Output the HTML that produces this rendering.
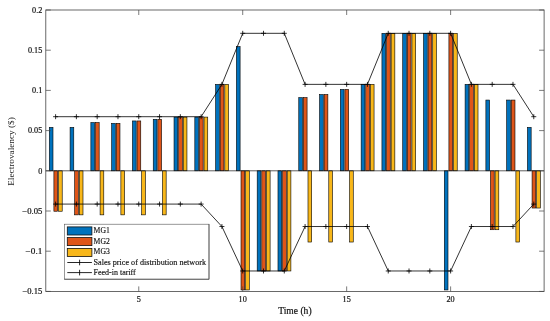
<!DOCTYPE html>
<html><head><meta charset="utf-8"><title>Electrovalency chart</title>
<style>html,body{margin:0;padding:0;background:#fff}svg{display:block}</style>
</head><body>
<svg width="550" height="321" viewBox="0 0 550 321">
<rect width="550" height="321" fill="#fff"/>
<rect x="49.29" y="127.38" width="3.70" height="43.42" fill="#0072BD" stroke="#000" stroke-width="0.6"/>
<rect x="53.90" y="170.80" width="3.70" height="40.44" fill="#DF5518" stroke="#000" stroke-width="0.6"/>
<rect x="58.51" y="170.80" width="3.70" height="40.44" fill="#F8B71A" stroke="#000" stroke-width="0.6"/>
<rect x="70.08" y="127.38" width="3.70" height="43.42" fill="#0072BD" stroke="#000" stroke-width="0.6"/>
<rect x="74.69" y="170.80" width="3.70" height="44.06" fill="#DF5518" stroke="#000" stroke-width="0.6"/>
<rect x="79.30" y="170.80" width="3.70" height="44.06" fill="#F8B71A" stroke="#000" stroke-width="0.6"/>
<rect x="90.87" y="122.56" width="3.70" height="48.24" fill="#0072BD" stroke="#000" stroke-width="0.6"/>
<rect x="95.48" y="122.56" width="3.70" height="48.24" fill="#DF5518" stroke="#000" stroke-width="0.6"/>
<rect x="100.09" y="170.80" width="3.70" height="44.06" fill="#F8B71A" stroke="#000" stroke-width="0.6"/>
<rect x="111.66" y="123.36" width="3.70" height="47.44" fill="#0072BD" stroke="#000" stroke-width="0.6"/>
<rect x="116.27" y="123.36" width="3.70" height="47.44" fill="#DF5518" stroke="#000" stroke-width="0.6"/>
<rect x="120.88" y="170.80" width="3.70" height="44.06" fill="#F8B71A" stroke="#000" stroke-width="0.6"/>
<rect x="132.45" y="120.95" width="3.70" height="49.85" fill="#0072BD" stroke="#000" stroke-width="0.6"/>
<rect x="137.06" y="120.95" width="3.70" height="49.85" fill="#DF5518" stroke="#000" stroke-width="0.6"/>
<rect x="141.67" y="170.80" width="3.70" height="44.06" fill="#F8B71A" stroke="#000" stroke-width="0.6"/>
<rect x="153.24" y="119.34" width="3.70" height="51.46" fill="#0072BD" stroke="#000" stroke-width="0.6"/>
<rect x="157.85" y="119.34" width="3.70" height="51.46" fill="#DF5518" stroke="#000" stroke-width="0.6"/>
<rect x="162.46" y="170.80" width="3.70" height="44.06" fill="#F8B71A" stroke="#000" stroke-width="0.6"/>
<rect x="174.03" y="117.09" width="3.70" height="53.71" fill="#0072BD" stroke="#000" stroke-width="0.6"/>
<rect x="178.64" y="117.09" width="3.70" height="53.71" fill="#DF5518" stroke="#000" stroke-width="0.6"/>
<rect x="183.25" y="117.09" width="3.70" height="53.71" fill="#F8B71A" stroke="#000" stroke-width="0.6"/>
<rect x="194.82" y="117.09" width="3.70" height="53.71" fill="#0072BD" stroke="#000" stroke-width="0.6"/>
<rect x="199.43" y="117.09" width="3.70" height="53.71" fill="#DF5518" stroke="#000" stroke-width="0.6"/>
<rect x="204.04" y="117.09" width="3.70" height="53.71" fill="#F8B71A" stroke="#000" stroke-width="0.6"/>
<rect x="215.61" y="84.37" width="3.70" height="86.43" fill="#0072BD" stroke="#000" stroke-width="0.6"/>
<rect x="220.22" y="84.37" width="3.70" height="86.43" fill="#DF5518" stroke="#000" stroke-width="0.6"/>
<rect x="224.83" y="84.37" width="3.70" height="86.43" fill="#F8B71A" stroke="#000" stroke-width="0.6"/>
<rect x="236.40" y="46.58" width="3.70" height="124.22" fill="#0072BD" stroke="#000" stroke-width="0.6"/>
<rect x="241.01" y="170.80" width="3.70" height="119.15" fill="#DF5518" stroke="#000" stroke-width="0.6"/>
<rect x="245.62" y="170.80" width="3.70" height="119.15" fill="#F8B71A" stroke="#000" stroke-width="0.6"/>
<rect x="257.19" y="170.80" width="3.70" height="100.18" fill="#0072BD" stroke="#000" stroke-width="0.6"/>
<rect x="261.80" y="170.80" width="3.70" height="100.18" fill="#DF5518" stroke="#000" stroke-width="0.6"/>
<rect x="266.41" y="170.80" width="3.70" height="100.18" fill="#F8B71A" stroke="#000" stroke-width="0.6"/>
<rect x="277.98" y="170.80" width="3.70" height="100.18" fill="#0072BD" stroke="#000" stroke-width="0.6"/>
<rect x="282.59" y="170.80" width="3.70" height="100.18" fill="#DF5518" stroke="#000" stroke-width="0.6"/>
<rect x="287.20" y="170.80" width="3.70" height="100.18" fill="#F8B71A" stroke="#000" stroke-width="0.6"/>
<rect x="298.77" y="97.64" width="3.70" height="73.16" fill="#0072BD" stroke="#000" stroke-width="0.6"/>
<rect x="303.38" y="97.64" width="3.70" height="73.16" fill="#DF5518" stroke="#000" stroke-width="0.6"/>
<rect x="307.99" y="170.80" width="3.70" height="71.23" fill="#F8B71A" stroke="#000" stroke-width="0.6"/>
<rect x="319.56" y="94.58" width="3.70" height="76.22" fill="#0072BD" stroke="#000" stroke-width="0.6"/>
<rect x="324.17" y="94.58" width="3.70" height="76.22" fill="#DF5518" stroke="#000" stroke-width="0.6"/>
<rect x="328.78" y="170.80" width="3.70" height="71.23" fill="#F8B71A" stroke="#000" stroke-width="0.6"/>
<rect x="340.35" y="89.44" width="3.70" height="81.36" fill="#0072BD" stroke="#000" stroke-width="0.6"/>
<rect x="344.96" y="89.44" width="3.70" height="81.36" fill="#DF5518" stroke="#000" stroke-width="0.6"/>
<rect x="349.57" y="170.80" width="3.70" height="71.23" fill="#F8B71A" stroke="#000" stroke-width="0.6"/>
<rect x="361.14" y="84.37" width="3.70" height="86.43" fill="#0072BD" stroke="#000" stroke-width="0.6"/>
<rect x="365.75" y="84.37" width="3.70" height="86.43" fill="#DF5518" stroke="#000" stroke-width="0.6"/>
<rect x="370.36" y="84.37" width="3.70" height="86.43" fill="#F8B71A" stroke="#000" stroke-width="0.6"/>
<rect x="381.93" y="33.32" width="3.70" height="137.48" fill="#0072BD" stroke="#000" stroke-width="0.6"/>
<rect x="386.54" y="33.32" width="3.70" height="137.48" fill="#DF5518" stroke="#000" stroke-width="0.6"/>
<rect x="391.15" y="33.32" width="3.70" height="137.48" fill="#F8B71A" stroke="#000" stroke-width="0.6"/>
<rect x="402.72" y="33.32" width="3.70" height="137.48" fill="#0072BD" stroke="#000" stroke-width="0.6"/>
<rect x="407.33" y="33.32" width="3.70" height="137.48" fill="#DF5518" stroke="#000" stroke-width="0.6"/>
<rect x="411.94" y="33.32" width="3.70" height="137.48" fill="#F8B71A" stroke="#000" stroke-width="0.6"/>
<rect x="423.51" y="33.32" width="3.70" height="137.48" fill="#0072BD" stroke="#000" stroke-width="0.6"/>
<rect x="428.12" y="33.32" width="3.70" height="137.48" fill="#DF5518" stroke="#000" stroke-width="0.6"/>
<rect x="432.73" y="33.32" width="3.70" height="137.48" fill="#F8B71A" stroke="#000" stroke-width="0.6"/>
<rect x="444.30" y="170.80" width="3.70" height="119.15" fill="#0072BD" stroke="#000" stroke-width="0.6"/>
<rect x="448.91" y="33.32" width="3.70" height="137.48" fill="#DF5518" stroke="#000" stroke-width="0.6"/>
<rect x="453.52" y="33.32" width="3.70" height="137.48" fill="#F8B71A" stroke="#000" stroke-width="0.6"/>
<rect x="465.09" y="84.37" width="3.70" height="86.43" fill="#0072BD" stroke="#000" stroke-width="0.6"/>
<rect x="469.70" y="84.37" width="3.70" height="86.43" fill="#DF5518" stroke="#000" stroke-width="0.6"/>
<rect x="474.31" y="84.37" width="3.70" height="86.43" fill="#F8B71A" stroke="#000" stroke-width="0.6"/>
<rect x="485.88" y="100.05" width="3.70" height="70.75" fill="#0072BD" stroke="#000" stroke-width="0.6"/>
<rect x="490.49" y="170.80" width="3.70" height="58.93" fill="#DF5518" stroke="#000" stroke-width="0.6"/>
<rect x="495.10" y="170.80" width="3.70" height="58.93" fill="#F8B71A" stroke="#000" stroke-width="0.6"/>
<rect x="506.67" y="100.05" width="3.70" height="70.75" fill="#0072BD" stroke="#000" stroke-width="0.6"/>
<rect x="511.28" y="100.05" width="3.70" height="70.75" fill="#DF5518" stroke="#000" stroke-width="0.6"/>
<rect x="515.89" y="170.80" width="3.70" height="71.23" fill="#F8B71A" stroke="#000" stroke-width="0.6"/>
<rect x="527.46" y="127.38" width="3.70" height="43.42" fill="#0072BD" stroke="#000" stroke-width="0.6"/>
<rect x="532.07" y="170.80" width="3.70" height="37.23" fill="#DF5518" stroke="#000" stroke-width="0.6"/>
<rect x="536.68" y="170.80" width="3.70" height="37.23" fill="#F8B71A" stroke="#000" stroke-width="0.6"/>
<line x1="45.8" y1="170.80" x2="544.1" y2="170.80" stroke="#1a1a1a" stroke-width="0.7"/>
<polyline points="55.60,116.69 76.39,116.69 97.18,116.69 117.97,116.69 138.76,116.69 159.55,116.69 180.34,116.69 201.13,116.69 221.92,84.37 242.71,33.32 263.50,33.32 284.29,33.32 305.08,84.37 325.87,84.37 346.66,84.37 367.45,84.37 388.24,33.32 409.03,33.32 429.82,33.32 450.61,33.32 471.40,84.37 492.19,84.37 512.98,84.37 533.77,116.69" fill="none" stroke="#000" stroke-width="0.8"/><path d="M53.10 116.69H58.10M55.60 114.19V119.19M73.89 116.69H78.89M76.39 114.19V119.19M94.68 116.69H99.68M97.18 114.19V119.19M115.47 116.69H120.47M117.97 114.19V119.19M136.26 116.69H141.26M138.76 114.19V119.19M157.05 116.69H162.05M159.55 114.19V119.19M177.84 116.69H182.84M180.34 114.19V119.19M198.63 116.69H203.63M201.13 114.19V119.19M219.42 84.37H224.42M221.92 81.87V86.87M240.21 33.32H245.21M242.71 30.82V35.82M261.00 33.32H266.00M263.50 30.82V35.82M281.79 33.32H286.79M284.29 30.82V35.82M302.58 84.37H307.58M305.08 81.87V86.87M323.37 84.37H328.37M325.87 81.87V86.87M344.16 84.37H349.16M346.66 81.87V86.87M364.95 84.37H369.95M367.45 81.87V86.87M385.74 33.32H390.74M388.24 30.82V35.82M406.53 33.32H411.53M409.03 30.82V35.82M427.32 33.32H432.32M429.82 30.82V35.82M448.11 33.32H453.11M450.61 30.82V35.82M468.90 84.37H473.90M471.40 81.87V86.87M489.69 84.37H494.69M492.19 81.87V86.87M510.48 84.37H515.48M512.98 81.87V86.87M531.27 116.69H536.27M533.77 114.19V119.19" fill="none" stroke="#000" stroke-width="0.8"/>
<polyline points="55.60,204.09 76.39,204.09 97.18,204.09 117.97,204.09 138.76,204.09 159.55,204.09 180.34,204.09 201.13,204.09 221.92,226.52 242.71,270.98 263.50,270.98 284.29,270.98 305.08,226.52 325.87,226.52 346.66,226.52 367.45,226.52 388.24,270.98 409.03,270.98 429.82,270.98 450.61,270.98 471.40,226.52 492.19,226.52 512.98,226.52 533.77,204.09" fill="none" stroke="#000" stroke-width="0.8"/><path d="M53.10 204.09H58.10M55.60 201.59V206.59M73.89 204.09H78.89M76.39 201.59V206.59M94.68 204.09H99.68M97.18 201.59V206.59M115.47 204.09H120.47M117.97 201.59V206.59M136.26 204.09H141.26M138.76 201.59V206.59M157.05 204.09H162.05M159.55 201.59V206.59M177.84 204.09H182.84M180.34 201.59V206.59M198.63 204.09H203.63M201.13 201.59V206.59M219.42 226.52H224.42M221.92 224.02V229.02M240.21 270.98H245.21M242.71 268.48V273.48M261.00 270.98H266.00M263.50 268.48V273.48M281.79 270.98H286.79M284.29 268.48V273.48M302.58 226.52H307.58M305.08 224.02V229.02M323.37 226.52H328.37M325.87 224.02V229.02M344.16 226.52H349.16M346.66 224.02V229.02M364.95 226.52H369.95M367.45 224.02V229.02M385.74 270.98H390.74M388.24 268.48V273.48M406.53 270.98H411.53M409.03 268.48V273.48M427.32 270.98H432.32M429.82 268.48V273.48M448.11 270.98H453.11M450.61 268.48V273.48M468.90 226.52H473.90M471.40 224.02V229.02M489.69 226.52H494.69M492.19 224.02V229.02M510.48 226.52H515.48M512.98 224.02V229.02M531.27 204.09H536.27M533.77 201.59V206.59" fill="none" stroke="#000" stroke-width="0.8"/>
<rect x="45.8" y="10.0" width="498.3" height="281.4" fill="none" stroke="#444" stroke-width="0.8"/>
<path d="M138.76 291.4V286.4M138.76 10.0V15.0M242.71 291.4V286.4M242.71 10.0V15.0M346.66 291.4V286.4M346.66 10.0V15.0M450.61 291.4V286.4M450.61 10.0V15.0M45.8 10.00H50.8M544.1 10.00H539.1M45.8 50.20H50.8M544.1 50.20H539.1M45.8 90.40H50.8M544.1 90.40H539.1M45.8 130.60H50.8M544.1 130.60H539.1M45.8 170.80H50.8M544.1 170.80H539.1M45.8 211.00H50.8M544.1 211.00H539.1M45.8 251.20H50.8M544.1 251.20H539.1M45.8 291.40H50.8M544.1 291.40H539.1" fill="none" stroke="#444" stroke-width="0.7"/>
<g font-family="'Liberation Serif', serif" font-size="8.2" fill="#111" stroke="#111" stroke-width="0.2">
<text x="138.76" y="302.2" text-anchor="middle">5</text>
<text x="242.71" y="302.2" text-anchor="middle">10</text>
<text x="346.66" y="302.2" text-anchor="middle">15</text>
<text x="450.61" y="302.2" text-anchor="middle">20</text>
<text x="42.3" y="12.80" text-anchor="end">0.2</text>
<text x="42.3" y="53.00" text-anchor="end">0.15</text>
<text x="42.3" y="93.20" text-anchor="end">0.1</text>
<text x="42.3" y="133.40" text-anchor="end">0.05</text>
<text x="42.3" y="173.60" text-anchor="end">0</text>
<text x="22.30" y="213.80" textLength="20.0" lengthAdjust="spacingAndGlyphs">−0.05</text>
<text x="25.60" y="254.00" textLength="16.7" lengthAdjust="spacingAndGlyphs">−0.1</text>
<text x="22.50" y="294.20" textLength="19.8" lengthAdjust="spacingAndGlyphs">−0.15</text>
<text x="278.2" y="313.6" font-size="9.3" textLength="33.4" lengthAdjust="spacingAndGlyphs">Time (h)</text>
<text transform="translate(14.1,185.8) rotate(-90)" font-size="9.2" stroke="none" fill="#222" textLength="68.6" lengthAdjust="spacingAndGlyphs">Electrovalency ($)</text>
</g>
<rect x="64.4" y="224.2" width="144.6" height="55" fill="#fff" stroke="#555" stroke-width="0.6"/>
<path d="M209 224.2V279.2H64.4" fill="none" stroke="#333" stroke-width="0.6"/>
<rect x="67.3" y="226.9" width="24.6" height="8.10" fill="#0072BD" stroke="#111" stroke-width="0.8"/>
<rect x="67.3" y="237.5" width="24.6" height="8.10" fill="#DF5518" stroke="#111" stroke-width="0.8"/>
<rect x="67.3" y="248.4" width="24.6" height="8.10" fill="#F8B71A" stroke="#111" stroke-width="0.8"/>
<path d="M67.3 262.5H91.9M79.6 259.7V265.3" stroke="#000" stroke-width="0.85" fill="none"/>
<path d="M67.3 272.6H91.9M79.6 269.8V275.40000000000003" stroke="#000" stroke-width="0.85" fill="none"/>
<g font-family="'Liberation Serif', serif" font-size="8.5" fill="#111" stroke="#111" stroke-width="0.15">
<text x="93.6" y="233.2" textLength="16.2" lengthAdjust="spacingAndGlyphs">MG1</text>
<text x="93.6" y="243.6" textLength="16.2" lengthAdjust="spacingAndGlyphs">MG2</text>
<text x="93.6" y="253.6" textLength="16.2" lengthAdjust="spacingAndGlyphs">MG3</text>
<text x="93.6" y="265.0" textLength="112.5" lengthAdjust="spacingAndGlyphs">Sales price of distribution network</text>
<text x="93.6" y="275.0" textLength="42.2" lengthAdjust="spacingAndGlyphs">Feed-in tariff</text>
</g>
</svg>
</body></html>
